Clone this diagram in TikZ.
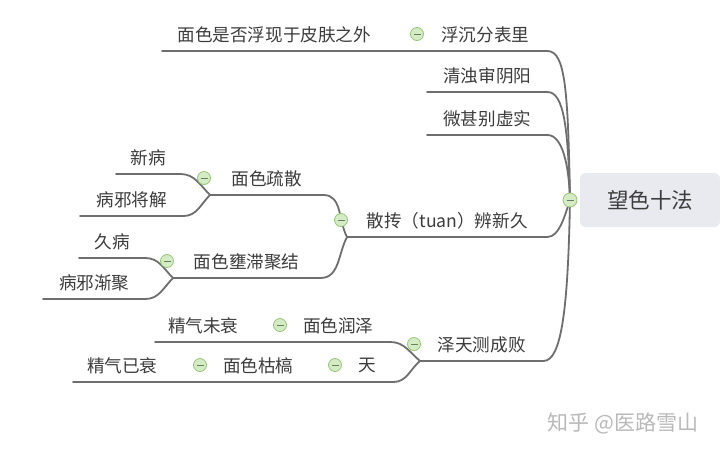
\documentclass[tikz,border=0pt]{standalone}
\usepackage{fontspec}
\setmainfont{Noto Sans CJK SC}
\usetikzlibrary{positioning, calc}
\definecolor{LN}{RGB}{110,110,110}
\definecolor{TX}{RGB}{60,60,60}
\definecolor{TG}{RGB}{212,236,196}
\definecolor{TB}{RGB}{150,196,120}
\definecolor{TM}{RGB}{105,125,95}
\definecolor{RB}{RGB}{232,234,240}
\definecolor{WM}{RGB}{185,185,185}

\begin{document}
\begin{tikzpicture}[x=1pt, y=1pt,
  topic/.style={anchor=south west, minimum width=#1, minimum height=32,
                inner sep=0pt, text=TX, font=\fontsize{17.6}{20}\selectfont},
  link/.style={draw=LN, line width=1.8pt, line cap=round},
  tog/.style={circle, draw=TB, fill=TG, line width=0.8pt, minimum size=13,
              inner sep=0pt,
              path picture={\draw[TM, line width=1pt]
                ([xshift=-3.5pt]path picture bounding box.center) --
                ([xshift=3.5pt]path picture bounding box.center);}},
  rootbox/.style={fill=RB, rounded corners=6pt, minimum width=140,
                  minimum height=54, text=TX, font=\fontsize{21.5}{24}\selectfont}
]
\fill[white] (0,0) rectangle (720,-451);
\useasboundingbox (0,0) rectangle (720,-451);

% Root
\node[rootbox] (root) at (650,-200) {望色十法};
\coordinate (R) at (570,-200);

% First level
\node[topic=124] (t1) at (423,-51)  {浮沉分表里};
\node[topic=120] (t2) at (427,-92)  {清浊审阴阳};
\node[topic=120] (t3) at (427,-135) {微甚别虚实};
\node[topic=200] (t4) at (347,-237) {散抟（tuan）辨新久};
\node[topic=123] (t5) at (420,-361) {泽天测成败};

% Under t1
\node[topic=224] (c1) at (162,-51) {面色是否浮现于皮肤之外};

% Under t4
\node[topic=113] (t41) at (210,-195) {面色疏散};
\node[topic=64]  (t411) at (116,-174) {新病};
\node[topic=103] (t412) at (80,-216)  {病邪将解};
\node[topic=147] (t42) at (173,-278) {面色壅滞聚结};
\node[topic=66]  (t421) at (79,-258)  {久病};
\node[topic=102] (t422) at (43,-299)  {病邪渐聚};

% Under t5
\node[topic=104] (t51)   at (286,-342) {面色润泽};
\node[topic=96]  (t511)  at (155,-342) {精气未衰};
\node[topic=52]  (t52)   at (341,-382) {天};
\node[topic=104] (t521)  at (206,-382) {面色枯槁};
\node[topic=98]  (t5211) at (73,-382)  {精气已衰};

% Underlines
\foreach \n in {c1,t1,t2,t3,t4,t5,t41,t42,t411,t412,t421,t422,t51,t511,t52,t521,t5211}
  \draw[link] (\n.south west) -- (\n.south east);

% Connectors to root
\draw[link] (t1.south east) .. controls +(18,0) and +(-2,110) .. (R);
\draw[link] (t2.south east) .. controls +(17,0) and +(-2,70) .. (R);
\draw[link] (t3.south east) .. controls +(15,0) and +(-1,35) .. (R);
\draw[link] (t4.south east) .. controls +(12,0) and +(-5,-15) .. (R);
\draw[link] (t5.south east) .. controls +(18,0) and +(-2,-110) .. (R);

% Connectors between topics
\draw[link] (c1.south east) -- (t1.south west);
\draw[link] (t41.south east) to[out=0, in=118] (t4.south west);
\draw[link] (t42.south east) to[out=0, in=242] (t4.south west);
\draw[link] (t411.south east) to[out=0, in=135] (t41.south west);
\draw[link] (t412.south east) to[out=0, in=225] (t41.south west);
\draw[link] (t421.south east) to[out=0, in=135] (t42.south west);
\draw[link] (t422.south east) to[out=0, in=225] (t42.south west);
\draw[link] (t51.south east) to[out=0, in=140] (t5.south west);
\draw[link] (t52.south east) to[out=0, in=220] (t5.south west);
\draw[link] (t511.south east) -- (t51.south west);
\draw[link] (t521.south east) -- (t52.south west);
\draw[link] (t5211.south east) -- (t521.south west);

% Collapse toggles
\node[tog, minimum size=14] (kR) at (R) {};
\node[tog] (k1)   at ([shift={(-6,17)}]t1.south west) {};
\node[tog] (k4)   at ([shift={(-6,17)}]t4.south west) {};
\node[tog] (k5)   at ([shift={(-6,17)}]t5.south west) {};
\node[tog] (k41)  at ([shift={(-6,17)}]t41.south west) {};
\node[tog] (k42)  at ([shift={(-6,17)}]t42.south west) {};
\node[tog] (k51)  at ([shift={(-6,17)}]t51.south west) {};
\node[tog] (k52)  at ([shift={(-6,17)}]t52.south west) {};
\node[tog] (k521) at ([shift={(-6,17)}]t521.south west) {};

% Watermark
\node[font=\fontsize{21}{24}\selectfont, text=WM] (wm) at (623,-423) {知乎 @医路雪山};
\end{tikzpicture}
\end{document}
